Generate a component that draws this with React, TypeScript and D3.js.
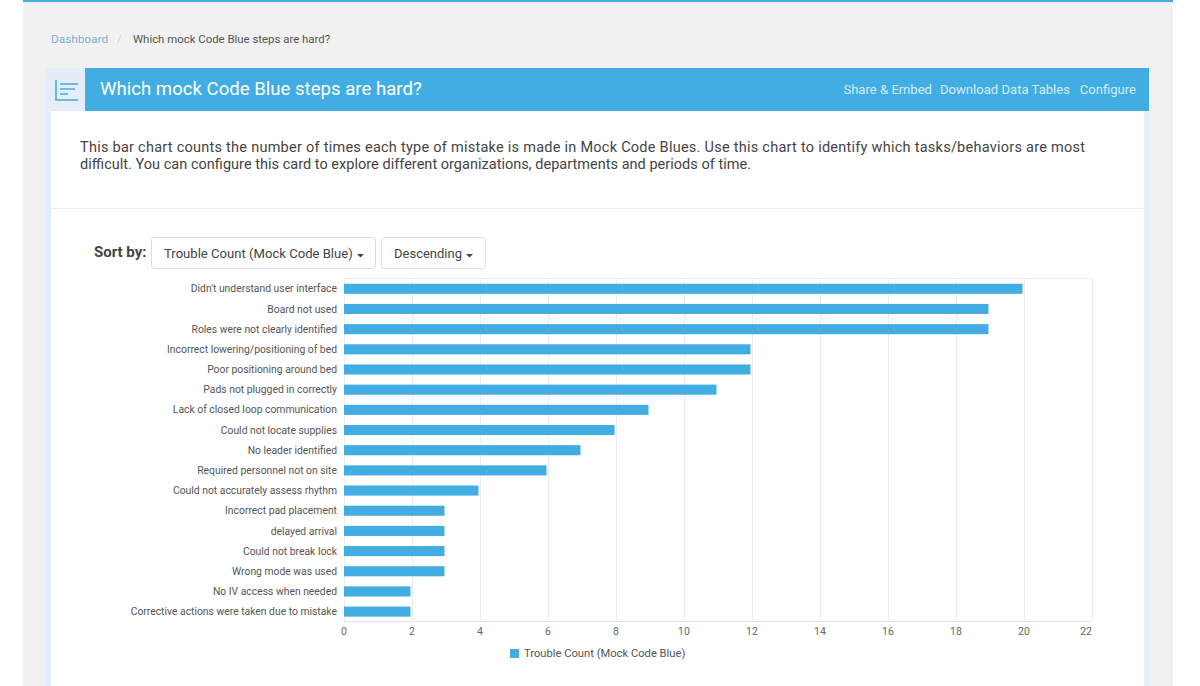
import React from "react";
import * as d3 from "d3";

const categories = ["Didn't understand user interface","Board not used","Roles were not clearly identified","Incorrect lowering/positioning of bed","Poor positioning around bed","Pads not plugged in correctly","Lack of closed loop communication","Could not locate supplies","No leader identified","Required personnel not on site","Could not accurately assess rhythm","Incorrect pad placement","delayed arrival","Could not break lock","Wrong mode was used","No IV access when needed","Corrective actions were taken due to mistake"];
const values = [20,19,19,12,12,11,9,8,7,6,4,3,3,3,3,2,2];
const ticks = [0,2,4,6,8,10,12,14,16,18,20,22];
const seriesName = "Trouble Count (Mock Code Blue)";
const pageTitle = "Which mock Code Blue steps are hard?";
const descriptionLines = [
  "This bar chart counts the number of times each type of mistake is made in Mock Code Blues. Use this chart to identify which tasks/behaviors are most",
  "difficult. You can configure this card to explore different organizations, departments and periods of time.",
];
const descriptionSpans = [1005, 671];
const headerLinks = [
  { label: "Configure", right: 1136 },
  { label: "Download Data Tables", right: 1070 },
  { label: "Share & Embed", right: 932 },
];

const BLUE = "#42ade2";
const FONT = "Roboto, sans-serif";

export default function App() {
  const x = d3.scaleLinear().domain([0, 22]).range([344, 1092]);
  const y = d3.scaleBand<string>().domain(categories).range([278.7, 621.7]).paddingInner(0.5).paddingOuter(0.25);
  const rowY = d3.scaleBand<string>().domain(categories).range([278.7, 621.7]);
  return (
    <svg width={1200} height={686} viewBox="0 0 1200 686" style={{ position: "fixed", left: 0, top: 0, display: "block", fontFamily: FONT }}>
      <rect width={1200} height={686} fill="#ffffff" />
      <rect x={23} y={0} width={1150} height={686} fill="#f1f1f1" />
      <rect x={23} y={0} width={1150} height={2} fill={BLUE} />

      <text x={51} y={43} fontSize={11.8} fill="#7fb0d2">Dashboard</text>
      <text x={117} y={43} fontSize={11.5} fill="#ccc">/</text>
      <text x={133} y={43} fontSize={11.4} fill="#555">{pageTitle}</text>

      <rect x={46} y={68} width={1103} height={618} fill="#e4edf8" />
      <rect x={51} y={111} width={1093} height={575} fill="#ffffff" />
      <rect x={85} y={68} width={1064} height={43} fill={BLUE} />
      <g stroke={BLUE} strokeWidth={1.6} fill="none">
        <path d="M56 80V100H78" />
        <path d="M60 84H78M60 89H75M60 94H68" />
      </g>
      <text x={100} y={95} fontSize={18.6} fill="#fff">{pageTitle}</text>
      {headerLinks.map((l) => (
        <text key={l.label} x={l.right} y={94} textAnchor="end" fontSize={13.1} fill="#d5ecf9">{l.label}</text>
      ))}

      {descriptionLines.map((line, i) => (
        <text key={i} x={80} y={152 + i * 17} fontSize={14.5} textLength={descriptionSpans[i]} lengthAdjust="spacing" fill="#444">{line}</text>
      ))}
      <line x1={51} x2={1144} y1={208.5} y2={208.5} stroke="#eeeeee" />

      <text x={94} y={257} fontSize={15} fontWeight={700} fill="#444">Sort by:</text>
      <rect x={151.5} y={237.5} width={224} height={31} rx={3} fill="#fff" stroke="#dcdcdc" />
      <text x={164} y={258} fontSize={13.1} fill="#444">{seriesName}</text>
      <path d="M357 254h7l-3.5 3.5z" fill="#444" />
      <rect x={381.5} y={237.5} width={104} height={31} rx={3} fill="#fff" stroke="#dcdcdc" />
      <text x={394} y={258} fontSize={13} fill="#444">Descending</text>
      <path d="M466 254h7l-3.5 3.5z" fill="#444" />

      {ticks.map((t, i) => (
        <g key={t}>
          <line x1={x(t) + 0.5} x2={x(t) + 0.5} y1={278} y2={621} stroke="#ececec" />
          <text x={x(t)} y={635} textAnchor={i === ticks.length - 1 ? "end" : "middle"} fontSize={10.5} fill="#666">{t}</text>
        </g>
      ))}
      <line x1={344} x2={1092} y1={278.5} y2={278.5} stroke="#ececec" />
      <line x1={344} x2={1092} y1={621.5} y2={621.5} stroke="#e4e4e4" />

      {categories.map((c, i) => (
        <g key={c}>
          <rect x={x(0)} y={y(c)!} width={x(values[i]) - x(0) - 1.5} height={y.bandwidth()} fill={BLUE} />
          <text x={337} y={rowY(c)! + rowY.bandwidth() / 2 + 3.6} textAnchor="end" fontSize={10.35} fill="#555">{c}</text>
        </g>
      ))}

      <rect x={510} y={649} width={9} height={9} fill={BLUE} />
      <text x={524} y={657} fontSize={11.2} fill="#555">{seriesName}</text>
    </svg>
  );
}
